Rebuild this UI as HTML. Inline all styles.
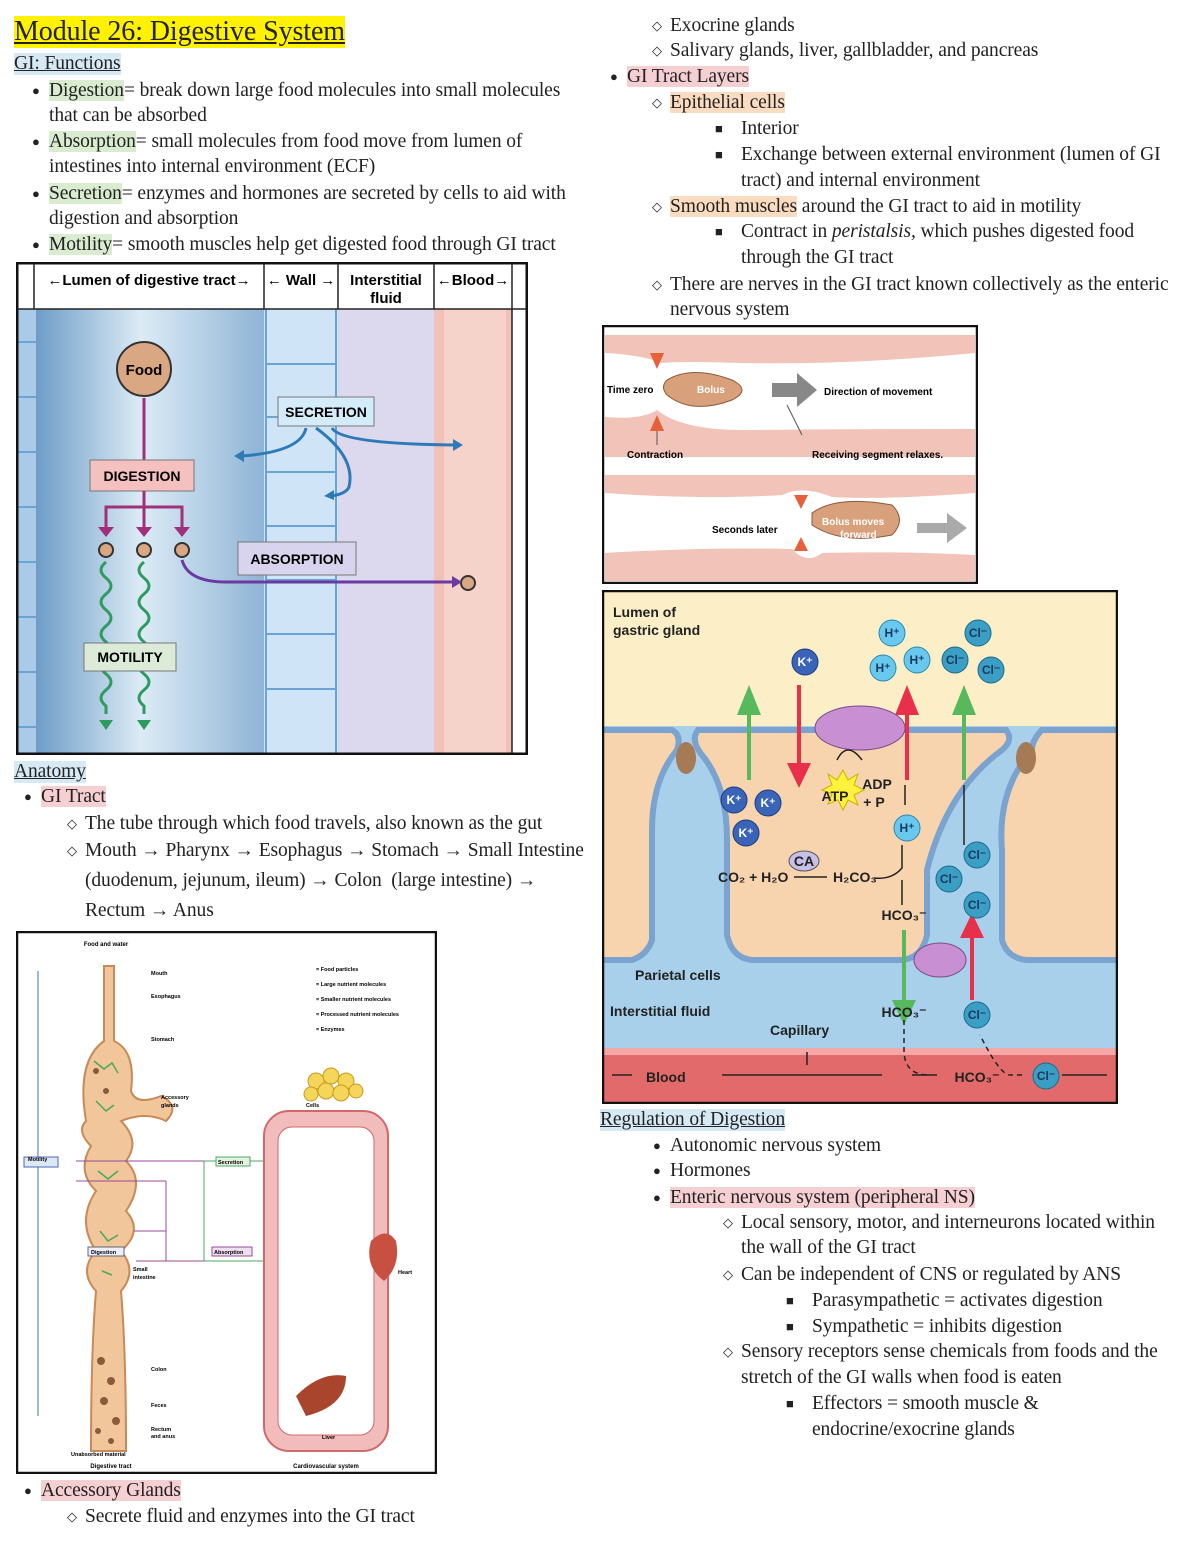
<!DOCTYPE html>
<html><head><meta charset="utf-8">
<style>
body{margin:0;width:1200px;height:1553px;background:#fff;position:relative;overflow:hidden;font-family:"Liberation Serif",serif;color:#222}
.t{position:absolute;font-size:19.5px;white-space:nowrap;line-height:22px;letter-spacing:-0.1px}
.u{text-decoration:underline}
.hy{background:#fff200}.hb{background:#d6e9f5}.hg{background:#d9ecd0}.hp{background:#f6cfd2}.ho{background:#fbdcc0}
.dot::before{content:"●";position:absolute;left:-17px;font-size:13px}
.dia::before{content:"◇";position:absolute;left:-18px;font-size:13px}
.sq::before{content:"■";position:absolute;left:-26px;font-size:13px}
svg text{font-family:"Liberation Sans",sans-serif;font-weight:bold}
</style></head><body>
<div class="t u hy" style="left:14px;top:16px;font-size:28px;line-height:32px">Module 26: Digestive System</div>
<div class="t u hb" style="left:14px;top:53px">GI: Functions</div>
<div class="t dot" style="left:49px;top:80px"><span class="hg">Digestion</span>= break down large food molecules into small molecules</div>
<div class="t" style="left:49px;top:105px">that can be absorbed</div>
<div class="t dot" style="left:49px;top:131px"><span class="hg">Absorption</span>= small molecules from food move from lumen of</div>
<div class="t" style="left:49px;top:156px">intestines into internal environment (ECF)</div>
<div class="t dot" style="left:49px;top:183px"><span class="hg">Secretion</span>= enzymes and hormones are secreted by cells to aid with</div>
<div class="t" style="left:49px;top:208px">digestion and absorption</div>
<div class="t dot" style="left:49px;top:234px"><span class="hg">Motility</span>= smooth muscles help get digested food through GI tract</div>

<svg style="position:absolute;left:16px;top:262px" width="512" height="493" viewBox="0 0 512 493">
<defs><linearGradient id="lg" x1="0" x2="1"><stop offset="0" stop-color="#5b8fbf"/><stop offset=".5" stop-color="#dcebf6"/><stop offset="1" stop-color="#8fb4d6"/></linearGradient></defs>
<rect x="0" y="0" width="512" height="493" fill="#fff"/>
<rect x="2" y="47" width="246" height="444" fill="url(#lg)"/>
<rect x="2" y="47" width="18" height="444" fill="#a9cbe8"/>
<rect x="248" y="47" width="74" height="444" fill="#cfe4f6"/>
<g stroke="#6aa3d6" stroke-width="2" fill="none">
<path d="M250 47V491M320 47V491"/>
<path d="M250 102H320M250 155H320M250 210H320M250 264H320M250 318H320M250 372H320M250 427H320M2 80H20M2 135H20M2 190H20M2 245H20M2 300H20M2 355H20M2 410H20M2 465H20"/></g>
<rect x="322" y="47" width="96" height="444" fill="#dcd8ee"/>
<rect x="418" y="47" width="78" height="444" fill="#f1c0b6"/>
<rect x="428" y="47" width="62" height="444" fill="#f6d3ca"/>
<rect x="1" y="1" width="510" height="491" fill="none" stroke="#111" stroke-width="3"/>
<path d="M1 47H511M18 2V47M248 2V47M322 2V47M418 2V47M496 2V491" stroke="#222" stroke-width="1.5"/>
<text x="133" y="23" font-size="15" text-anchor="middle">←Lumen of digestive tract→</text>
<text x="285" y="23" font-size="15" text-anchor="middle">← Wall →</text>
<text x="370" y="23" font-size="15" text-anchor="middle">Interstitial</text>
<text x="370" y="41" font-size="15" text-anchor="middle">fluid</text>
<text x="457" y="23" font-size="15" text-anchor="middle">←Blood→</text>
<circle cx="128" cy="107" r="27" fill="#d9a882" stroke="#333" stroke-width="2"/>
<text x="128" y="113" font-size="15" text-anchor="middle">Food</text>
<path d="M128 136V198" stroke="#a0307a" stroke-width="3"/>
<rect x="74" y="198" width="104" height="31" fill="#f4c0c0" stroke="#777"/>
<text x="126" y="219" font-size="14" text-anchor="middle">DIGESTION</text>
<path d="M128 229V262M90 270V245H166V270M128 245V270" stroke="#a0307a" stroke-width="3" fill="none"/>
<path d="M82 265h16l-8 10zM120 265h16l-8 10zM158 265h16l-8 10z" fill="#a0307a"/>
<g fill="#d9a882" stroke="#333" stroke-width="2"><circle cx="90" cy="288" r="7"/><circle cx="128" cy="288" r="7"/><circle cx="166" cy="288" r="7"/><circle cx="452" cy="321" r="7"/></g>
<path d="M166 298 Q172 320 210 320 H436" stroke="#6a3aa0" stroke-width="3" fill="none"/><path d="M436 314l10 6-10 6z" fill="#6a3aa0"/>
<rect x="222" y="280" width="118" height="33" fill="#d8d4ee" stroke="#777"/>
<text x="281" y="302" font-size="14" text-anchor="middle">ABSORPTION</text>
<rect x="262" y="135" width="96" height="29" fill="#d4ecfa" stroke="#777"/>
<text x="310" y="155" font-size="14" text-anchor="middle">SECRETION</text>
<g stroke="#2e7ab8" stroke-width="3" fill="none"><path d="M290 166 Q285 190 225 194"/><path d="M300 166 Q340 195 333 225 Q330 232 315 234"/><path d="M316 166 Q325 182 440 183"/></g>
<path d="M228 188l-10 6 10 6zM318 228l-10 6 10 4zM437 177l10 6-10 6z" fill="#2e7ab8"/>
<g stroke="#2e9a60" stroke-width="3" fill="none"><path d="M90 300 q-10 8 0 16 q10 8 0 16 q-10 8 0 16 q10 8 0 16 q-10 8 0 16 q10 8 0 16 q-10 8 0 16 q10 8 0 16 q-10 8 0 16 v8"/><path d="M128 300 q-10 8 0 16 q10 8 0 16 q-10 8 0 16 q10 8 0 16 q-10 8 0 16 q10 8 0 16 q-10 8 0 16 q10 8 0 16 q-10 8 0 16 v8"/></g>
<path d="M83 458l7 10 7-10zM121 458l7 10 7-10z" fill="#2e9a60"/>
<rect x="68" y="381" width="92" height="28" fill="#dcebd8" stroke="#777"/>
<text x="114" y="400" font-size="14" text-anchor="middle">MOTILITY</text>
</svg>

<div class="t u hb" style="left:14px;top:761px">Anatomy</div>
<div class="t dot" style="left:41px;top:786px"><span class="hp">GI Tract</span></div>
<div class="t dia" style="left:85px;top:813px">The tube through which food travels, also known as the gut</div>
<div class="t dia" style="left:85px;top:840px">Mouth → Pharynx → Esophagus → Stomach → Small Intestine</div>
<div class="t" style="left:85px;top:870px">(duodenum, jejunum, ileum) → Colon &nbsp;(large intestine) →</div>
<div class="t" style="left:85px;top:900px">Rectum → Anus</div>

<svg style="position:absolute;left:16px;top:931px" width="421" height="543" viewBox="0 0 421 543">
<rect x="1" y="1" width="419" height="541" fill="#fff" stroke="#111" stroke-width="2.5"/>
<text x="90" y="15" font-size="6" font-weight="normal" text-anchor="middle">Food and water</text>
<path d="M22 40V485" stroke="#4a6ab0"/>
<rect x="8" y="226" width="34" height="10" fill="#dde8f6" stroke="#4a6ab0"/>
<path d="M88 35 V110 Q60 130 70 190 Q60 200 75 215 Q60 240 80 260 Q60 290 80 320 Q62 340 80 360 Q75 420 75 520 H110 Q110 420 105 360 Q122 340 105 320 Q128 300 110 280 Q130 250 110 230 Q125 210 105 190 Q130 180 150 190 Q165 175 145 165 Q120 175 115 160 Q120 120 98 110 V35 Z" fill="#f0c69a" stroke="#c88a58" stroke-width="2"/>
<g fill="#8a5a3a"><circle cx="80" cy="140" r="3"/><circle cx="90" cy="160" r="3"/><circle cx="85" cy="430" r="4"/><circle cx="95" cy="450" r="4"/><circle cx="88" cy="470" r="4"/><circle cx="100" cy="490" r="4"/><circle cx="82" cy="500" r="3"/><circle cx="95" cy="510" r="3"/></g>
<g fill="none" stroke="#4aa860" stroke-width="1.5"><path d="M78 130 l10 8 8 -6 6 10M80 170l10 10 8-6M82 240l10 8 10-8M84 300l8 10 10-6M86 340l10 4"/></g>
<g stroke="#9a4a9a" fill="none"><path d="M60 230H190M60 250H150M120 330H188M150 250V330M118 300H150"/></g>
<path d="M188 230V330M188 230H250M188 330H250" stroke="#4aa860" fill="none"/>
<rect x="200" y="226" width="34" height="9" fill="#e6f3e0" stroke="#4aa860"/>
<rect x="196" y="316" width="40" height="9" fill="#efe0f0" stroke="#9a4a9a"/>
<rect x="72" y="316" width="36" height="9" fill="#eef" stroke="#666"/>
<rect x="248" y="180" width="124" height="340" rx="25" fill="#f3bcbc" stroke="#d06a6a" stroke-width="2"/>
<rect x="262" y="196" width="96" height="308" rx="14" fill="#fff" stroke="#d06a6a"/>
<g fill="#f5d55a" stroke="#c79a20"><circle cx="300" cy="150" r="8"/><circle cx="315" cy="145" r="8"/><circle cx="330" cy="150" r="8"/><circle cx="310" cy="160" r="8"/><circle cx="325" cy="162" r="8"/><circle cx="295" cy="163" r="7"/><circle cx="340" cy="160" r="7"/></g>
<path d="M355 310 q15 -15 25 0 q5 25 -12 40 q-20 -15 -13 -40z" fill="#c85040"/>
<path d="M280 465 q25 -25 50 -20 q0 30 -40 40z" fill="#a8452c"/>
<g font-size="5.5" font-weight="normal"><text x="135" y="44">Mouth</text><text x="135" y="67">Esophagus</text><text x="135" y="110">Stomach</text><text x="145" y="168">Accessory</text><text x="145" y="176">glands</text><text x="117" y="340">Small</text><text x="117" y="348">intestine</text><text x="135" y="440">Colon</text><text x="135" y="476">Feces</text><text x="135" y="500">Rectum</text><text x="135" y="507">and anus</text><text x="382" y="343">Heart</text><text x="306" y="508">Liver</text><text x="290" y="176">Cells</text>
<text x="300" y="40">= Food particles</text><text x="300" y="55">= Large nutrient molecules</text><text x="300" y="70">= Smaller nutrient molecules</text><text x="300" y="85">= Processed nutrient molecules</text><text x="300" y="100">= Enzymes</text><text x="55" y="525">Unabsorbed material</text><text x="12" y="230">Motility</text><text x="202" y="233">Secretion</text><text x="198" y="323">Absorption</text><text x="75" y="323">Digestion</text></g>
<text x="95" y="537" font-size="6" text-anchor="middle">Digestive tract</text>
<text x="310" y="537" font-size="6" text-anchor="middle">Cardiovascular system</text>
</svg>

<div class="t dot" style="left:41px;top:1480px"><span class="hp">Accessory Glands</span></div>
<div class="t dia" style="left:85px;top:1506px">Secrete fluid and enzymes into the GI tract</div>

<div class="t dia" style="left:670px;top:15px">Exocrine glands</div>
<div class="t dia" style="left:670px;top:40px">Salivary glands, liver, gallbladder, and pancreas</div>
<div class="t dot" style="left:627px;top:66px"><span class="hp">GI Tract Layers</span></div>
<div class="t dia" style="left:670px;top:92px"><span class="ho">Epithelial cells</span></div>
<div class="t sq" style="left:741px;top:118px">Interior</div>
<div class="t sq" style="left:741px;top:144px">Exchange between external environment (lumen of GI</div>
<div class="t" style="left:741px;top:170px">tract) and internal environment</div>
<div class="t dia" style="left:670px;top:196px"><span class="ho">Smooth muscles</span> around the GI tract to aid in motility</div>
<div class="t sq" style="left:741px;top:221px">Contract in <i>peristalsis,</i> which pushes digested food</div>
<div class="t" style="left:741px;top:247px">through the GI tract</div>
<div class="t dia" style="left:670px;top:274px">There are nerves in the GI tract known collectively as the enteric</div>
<div class="t" style="left:670px;top:299px">nervous system</div>

<svg style="position:absolute;left:602px;top:325px" width="376" height="259" viewBox="0 0 376 259">
<rect x="1" y="1" width="374" height="257" fill="#fff" stroke="#111" stroke-width="2.5"/>
<g fill="#f2c3b8"><path d="M3 10H373V28Q250 40 140 38Q80 36 60 38Q40 30 3 28Z"/><path d="M3 92Q40 95 55 85Q80 105 140 105Q250 104 373 104V132H3Z"/><path d="M3 150H373V168Q280 175 230 172Q200 160 180 170Q100 175 3 168Z"/><path d="M3 228Q100 222 190 224Q205 240 220 228Q300 226 373 230V256H3Z"/></g>
<path d="M65 55 Q90 40 130 55 Q150 65 130 75 Q90 90 65 70Q58 62 65 55Z" fill="#d9a07c" stroke="#8a5a3a"/>
<path d="M210 188 Q235 170 290 180 Q305 195 290 210 Q240 220 210 200Z" fill="#d9a07c" stroke="#8a5a3a"/>
<path d="M170 58h25v-10l20 17-20 17v-10h-25z" fill="#888"/>
<path d="M315 198h30v-10l20 15-20 15v-10h-30z" fill="#aaa"/>
<path d="M48 28l7 16 7-16zM48 106l7-16 7 16zM192 170l7 14 7-14zM192 226l7-14 7 14z" fill="#e8603a"/>
<path d="M55 106V120M185 80l15 30" stroke="#555"/>
<g font-size="10"><text x="5" y="68">Time zero</text><text x="95" y="68" fill="#fff">Bolus</text><text x="222" y="70">Direction of movement</text><text x="25" y="133">Contraction</text><text x="210" y="133">Receiving segment relaxes.</text><text x="110" y="208">Seconds later</text><text x="220" y="200" fill="#fff">Bolus moves</text><text x="238" y="213" fill="#fff">forward</text></g>
</svg>

<svg style="position:absolute;left:602px;top:590px" width="516" height="514" viewBox="0 0 516 514">
<rect x="0" y="0" width="516" height="514" fill="#fcefc8"/>
<rect x="0" y="136" width="516" height="324" fill="#a9d0ea"/>
<g fill="#f7d4ad" stroke="#7aa3d0" stroke-width="6">
<path d="M-5 140 H70 Q80 145 75 160 Q50 190 50 240 V350 Q45 365 30 370 H-5Z"/>
<path d="M96 140 Q88 150 100 165 Q125 195 125 250 V345 Q130 368 150 370 H300 Q320 368 325 345 V280 Q345 200 400 160 Q412 150 404 140 Z"/>
<path d="M440 140 Q430 150 430 160 Q395 200 400 260 V350 Q405 368 425 370 H520 V140Z"/></g>
<rect x="0" y="458" width="516" height="56" fill="#e26a6a"/><rect x="0" y="458" width="516" height="7" fill="#f4a8a8"/>
<ellipse cx="84" cy="168" rx="10" ry="16" fill="#a57a55"/><ellipse cx="424" cy="168" rx="10" ry="16" fill="#a57a55"/>
<ellipse cx="258" cy="138" rx="45" ry="22" fill="#c98fd3" stroke="#7a4a8a"/>
<ellipse cx="338" cy="370" rx="26" ry="17" fill="#c98fd3" stroke="#7a4a8a"/>
<path d="M145 190V125h-10l12-30 12 30h-10v65z" fill="#58b85c"/>
<path d="M360 190V125h-10l12-30 12 30h-10v65z" fill="#58b85c"/>
<path d="M303 190V125h-10l12-30 12 30h-10v65z" fill="#e8304a"/>
<path d="M195 95v78h-10l12 25 12-25h-10v-78z" fill="#e8304a"/>
<path d="M300 340v70h-10l12 25 12-25h-10v-70z" fill="#58b85c"/>
<path d="M368 410V348h-10l12-25 12 25h-10v62z" fill="#e8304a"/>
<g font-size="14" text-anchor="middle" fill="#222">
<g fill="#3a64b8" stroke="#1d3a80"><circle cx="203" cy="72" r="13"/><circle cx="132" cy="210" r="13"/><circle cx="166" cy="213" r="13"/><circle cx="144" cy="243" r="13"/></g>
<g fill="#69c8ee" stroke="#2a88b0"><circle cx="290" cy="43" r="13"/><circle cx="281" cy="78" r="13"/><circle cx="315" cy="70" r="13"/><circle cx="305" cy="238" r="13"/></g>
<g fill="#3b9ec4" stroke="#1a6a8a"><circle cx="376" cy="43" r="13"/><circle cx="353" cy="70" r="13"/><circle cx="389" cy="80" r="13"/><circle cx="375" cy="265" r="13"/><circle cx="347" cy="289" r="13"/><circle cx="375" cy="315" r="13"/><circle cx="375" cy="425" r="13"/><circle cx="444" cy="486" r="13"/></g>
<g fill="#fff" font-size="12"><text x="203" y="76">K⁺</text><text x="132" y="214">K⁺</text><text x="166" y="217">K⁺</text><text x="144" y="247">K⁺</text></g>
<g fill="#1a3a60" font-size="12"><text x="290" y="47">H⁺</text><text x="281" y="82">H⁺</text><text x="315" y="74">H⁺</text><text x="305" y="242">H⁺</text><text x="376" y="47">Cl⁻</text><text x="353" y="74">Cl⁻</text><text x="389" y="84">Cl⁻</text><text x="375" y="269">Cl⁻</text><text x="347" y="293">Cl⁻</text><text x="375" y="319">Cl⁻</text><text x="375" y="429">Cl⁻</text><text x="444" y="490">Cl⁻</text></g>
<polygon points="235,190 241,180 246,190 256,184 252,195 262,200 252,205 256,215 246,210 241,220 236,210 226,214 230,204 220,200 230,195 226,184" fill="#fff23a" stroke="#d0b000"/>
<text x="233" y="211">ATP</text><text x="275" y="199">ADP</text><text x="272" y="217">+ P</text>
<ellipse cx="202" cy="271" rx="15" ry="10" fill="#c8c0e8" stroke="#555"/>
<text x="202" y="276">CA</text>
<text x="116" y="292" text-anchor="start">CO₂ + H₂O</text><text x="231" y="292" text-anchor="start">H₂CO₃</text>
<text x="302" y="330">HCO₃⁻</text><text x="302" y="427">HCO₃⁻</text><text x="375" y="492">HCO₃⁻</text>
<text x="11" y="27" text-anchor="start">Lumen of</text><text x="11" y="45" text-anchor="start">gastric gland</text>
<text x="33" y="390" text-anchor="start">Parietal cells</text><text x="8" y="426" text-anchor="start">Interstitial fluid</text>
<text x="168" y="445" text-anchor="start">Capillary</text><text x="44" y="492" text-anchor="start">Blood</text></g>
<g stroke="#222" stroke-width="1.5" fill="none"><path d="M192 287H225M272 288Q290 290 300 278V255M300 290V315M303 215V195M362 255V195M235 170Q245 150 260 170M10 485H30M120 485H280M310 485H335M460 485H505M205 462V475"/>
<path d="M302 430v30q0 25 25 25" stroke-dasharray="5 4"/><path d="M420 485h-12q-10 0-30-40" stroke-dasharray="5 4"/></g>
<rect x="1" y="1" width="514" height="512" fill="none" stroke="#111" stroke-width="2.5"/>
</svg>

<div class="t u hb" style="left:600px;top:1109px">Regulation of Digestion</div>
<div class="t dot" style="left:670px;top:1135px">Autonomic nervous system</div>
<div class="t dot" style="left:670px;top:1160px">Hormones</div>
<div class="t dot" style="left:670px;top:1187px"><span class="hp">Enteric nervous system (peripheral NS)</span></div>
<div class="t dia" style="left:741px;top:1212px">Local sensory, motor, and interneurons located within</div>
<div class="t" style="left:741px;top:1237px">the wall of the GI tract</div>
<div class="t dia" style="left:741px;top:1264px">Can be independent of CNS or regulated by ANS</div>
<div class="t sq" style="left:812px;top:1290px">Parasympathetic = activates digestion</div>
<div class="t sq" style="left:812px;top:1316px">Sympathetic = inhibits digestion</div>
<div class="t dia" style="left:741px;top:1341px">Sensory receptors sense chemicals from foods and the</div>
<div class="t" style="left:741px;top:1367px">stretch of the GI walls when food is eaten</div>
<div class="t sq" style="left:812px;top:1393px">Effectors = smooth muscle &amp;</div>
<div class="t" style="left:812px;top:1419px">endocrine/exocrine glands</div>
</body></html>
